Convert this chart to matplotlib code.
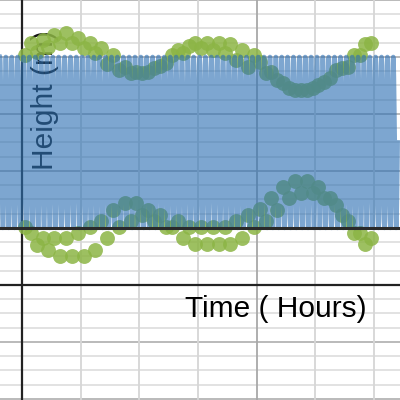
import matplotlib
matplotlib.use("Agg")
import matplotlib.pyplot as plt
import numpy as np

plt.rcParams['font.family'] = ['Liberation Sans', 'DejaVu Sans']

# sample times (hours), every 6 minutes
times = [0.05, 0.15, 0.25, 0.35, 0.45, 0.55, 0.65, 0.75, 0.85, 0.95,
         1.05, 1.15, 1.25, 1.35, 1.45, 1.55, 1.65, 1.75, 1.85, 1.95,
         2.05, 2.15, 2.25, 2.35, 2.45, 2.55, 2.65, 2.75, 2.85, 2.95,
         3.05, 3.15, 3.25, 3.35, 3.45, 3.55, 3.65, 3.75, 3.85, 3.95,
         4.05, 4.15, 4.25, 4.35, 4.45, 4.55, 4.65, 4.75, 4.85, 4.95,
         5.05, 5.15, 5.25, 5.35, 5.45, 5.55, 5.65, 5.75, 5.85, 5.95]

# measured heights (m), high water points
high_h = [4.04, 4.25, 4.09, 4.30, 4.18, 4.39, 4.25, 4.42, 4.25, 4.33,
          4.16, 4.25, 4.07, 4.16, 3.88, 4.04, 3.77, 3.82, 3.72, 3.74,
          3.72, 3.74, 3.81, 3.84, 3.89, 4.04, 4.12, 4.07, 4.19, 4.25,
          4.16, 4.25, 4.12, 4.25, 4.07, 4.23, 3.95, 4.12, 3.82, 4.04,
          3.91, 3.72, 3.74, 3.60, 3.54, 3.46, 3.42, 3.42, 3.42, 3.46,
          3.51, 3.56, 3.63, 3.77, 3.81, 3.82, 4.04, 4.04, 4.23, 4.25]

# low water points
low_h = [1.02, 0.91, 0.70, 0.82, 0.61, 0.82, 0.51, 0.82, 0.51, 0.91,
         0.51, 1.02, 0.61, 1.12, 0.82, 1.32, 1.02, 1.44, 1.12, 1.44,
         1.23, 1.32, 1.12, 1.23, 1.02, 1.02, 1.12, 0.82, 1.02, 0.72,
         1.02, 0.72, 1.02, 0.72, 1.02, 0.72, 1.12, 0.82, 1.23, 1.02,
         1.33, 1.12, 1.53, 1.32, 1.72, 1.53, 1.82, 1.61, 1.82, 1.61,
         1.72, 1.53, 1.53, 1.40, 1.23, 1.12, 0.91, 0.91, 0.72, 0.82]

# model curve y = mid + amp*sin(2*pi*t/period)
mid = 2.5
amp = 1.5
period = 0.1

fig = plt.figure(figsize=(4, 4), dpi=100)
ax = fig.add_axes([0, 0, 1, 1])
ax.set_xlim(-0.375, 6.44)
ax.set_ylim(-2.02, 5.0)
ax.axis('off')

# grid
for yv in np.arange(-2, 5.01, 0.25):
    if abs(yv - round(yv)) < 1e-6:
        ax.axhline(yv, color='#b4b4b4', lw=1.3, zorder=0)
    else:
        ax.axhline(yv, color='#dddddd', lw=1.2, zorder=0)
for xv in range(1, 7):
    c = '#a8a8a8' if xv % 4 == 0 else '#d6d6d6'
    ax.axvline(xv, color=c, lw=1.3, zorder=0)

# axes
ax.axvline(0, color='#222222', lw=1.6, zorder=1)
ax.axhline(0, color='#222222', lw=1.6, zorder=1)

ax.text(0.1125, 0.75, 'Height (m)', transform=ax.transAxes, rotation=90,
        ha='center', va='center', fontsize=21.5, color='#111111', zorder=2)

ax.scatter(times, high_h, s=115, color='#8cb545', alpha=0.85, lw=0, zorder=3)
ax.scatter(times, low_h, s=115, color='#8cb545', alpha=0.85, lw=0, zorder=3)

t = np.linspace(-0.4, 6.4, 40000)
ax.plot(t, mid + amp * np.sin(2 * np.pi * t / period), color='#2d70b3',
        alpha=0.62, lw=3.3, zorder=4)

ax.axhline(1, color='#2a2a2a', lw=2.2, zorder=5)

ax.text(0.4625, 0.2075, 'Time ( Hours)', transform=ax.transAxes,
        ha='left', va='baseline', fontsize=21.5, color='black', zorder=6)

fig.savefig('out.png', dpi=100)
